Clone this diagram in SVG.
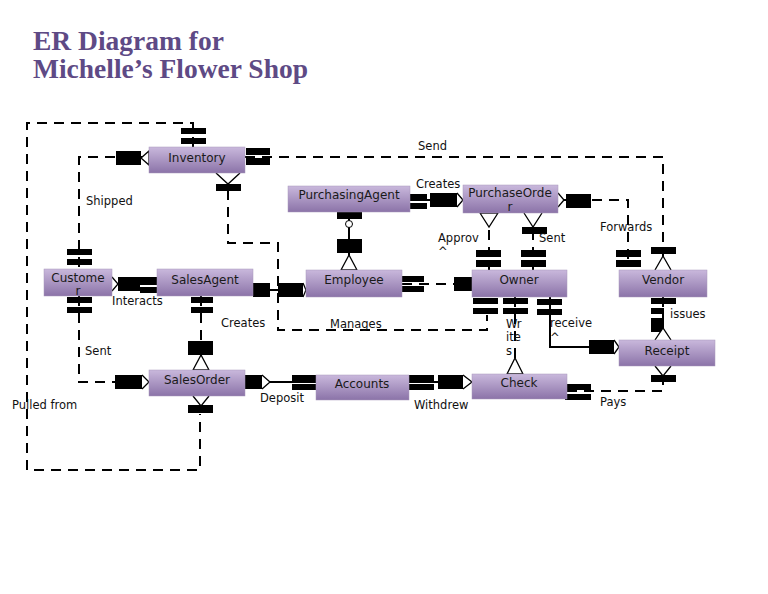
<svg xmlns="http://www.w3.org/2000/svg" width="768" height="594" viewBox="0 0 768 594">
<defs>
<linearGradient id="g" x1="0" y1="0" x2="0" y2="1"><stop offset="0" stop-color="#c9b8dc"/><stop offset="1" stop-color="#8b73a8"/></linearGradient>
</defs>
<style>
.box{fill:url(#g);stroke:#a898bb;stroke-width:0.5}
.t{font-family:"DejaVu Sans",sans-serif;font-size:12px;fill:#1a1a1a;text-anchor:middle}
.l{font-family:"DejaVu Sans",sans-serif;font-size:11.5px;fill:#111}
.d{fill:none;stroke:#000;stroke-width:2;stroke-dasharray:10,7}
.s{fill:none;stroke:#000;stroke-width:2}
.b{fill:#000}
.cf{fill:#fff;stroke:#000;stroke-width:1.3}
</style>
<rect width="768" height="594" fill="#fff"/>
<text x="33" y="50" font-family="Liberation Serif,serif" font-weight="bold" font-size="27.5" fill="#5e4a85">ER Diagram for</text>
<text x="33" y="78" font-family="Liberation Serif,serif" font-weight="bold" font-size="27.5" fill="#5e4a85">Michelle’s Flower Shop</text>
<g id="connectors">
<path class="d" d="M193 147V123H27V470H200V414"/>
<path class="d" d="M149 157H79V269"/>
<path class="d" d="M245 157H663V270"/>
<path class="d" d="M228 190V243H278V330H487V315"/>
<path class="s" d="M410 200H463"/>
<path class="s" d="M349 212V270"/>
<path class="d" d="M558 200H628V262"/>
<path class="d" d="M489 213V270"/>
<path class="d" d="M533 213V270"/>
<path class="d" d="M402 284H472"/>
<path class="s" d="M112 284H157"/>
<path class="d" d="M201 296V370"/>
<path class="s" d="M253 290H306"/>
<path class="d" d="M79 296V382H149"/>
<path class="s" d="M245 382H316"/>
<path class="s" d="M409 382H472"/>
<path class="d" d="M515 297V374"/>
<path class="s" d="M550 297V347H619"/>
<path class="d" d="M663 297V340"/>
<path class="d" d="M567 391H663V366"/>
<g class="b">
<rect x="181" y="128" width="25" height="6"/><rect x="181" y="138" width="25" height="6"/>
<rect x="116" y="151" width="25" height="14"/>
<rect x="246" y="148" width="24" height="7"/><rect x="246" y="158" width="24" height="7"/>
<rect x="216" y="184" width="25" height="7"/>
<rect x="67" y="249" width="25" height="6"/><rect x="67" y="259" width="25" height="6"/>
<rect x="67" y="297" width="25" height="6"/><rect x="67" y="307" width="25" height="6"/>
<rect x="118" y="277" width="22" height="14"/><rect x="140" y="277" width="17" height="6"/><rect x="140" y="287" width="17" height="6"/>
<rect x="191" y="297" width="22" height="6"/><rect x="191" y="307" width="22" height="6"/>
<rect x="253" y="283" width="17" height="14"/><rect x="278" y="283" width="25" height="14"/>
<rect x="337" y="212" width="25" height="7"/><rect x="337" y="239" width="25" height="14"/>
<rect x="410" y="194" width="17" height="6"/><rect x="410" y="203" width="17" height="6"/><rect x="430" y="193" width="27" height="14"/>
<rect x="566" y="194" width="25" height="14"/>
<rect x="522" y="227" width="25" height="7"/>
<rect x="476" y="250" width="25" height="7"/><rect x="476" y="260" width="25" height="7"/>
<rect x="521" y="250" width="25" height="7"/><rect x="521" y="260" width="25" height="7"/>
<rect x="616" y="250" width="25" height="7"/><rect x="616" y="260" width="25" height="7"/>
<rect x="651" y="247" width="25" height="7"/>
<rect x="402" y="276" width="22" height="6"/><rect x="402" y="286" width="22" height="6"/>
<rect x="454" y="277" width="18" height="14"/>
<rect x="473" y="298" width="25" height="6"/><rect x="473" y="308" width="25" height="6"/>
<rect x="503" y="298" width="25" height="6"/><rect x="503" y="308" width="25" height="6"/>
<rect x="537" y="299" width="25" height="6"/><rect x="537" y="309" width="25" height="6"/>
<rect x="651" y="298" width="25" height="6"/><rect x="651" y="308" width="13" height="6"/><rect x="651" y="318" width="13" height="14"/>
<rect x="589" y="340" width="25" height="14"/>
<rect x="651" y="375" width="25" height="7"/>
<rect x="115" y="375" width="27" height="14"/>
<rect x="188" y="341" width="25" height="14"/>
<rect x="188" y="405" width="25" height="8"/>
<rect x="236" y="375" width="26" height="14"/>
<rect x="292" y="375" width="24" height="6"/><rect x="292" y="384" width="24" height="6"/>
<rect x="409" y="375" width="25" height="6"/><rect x="409" y="384" width="25" height="6"/><rect x="438" y="375" width="25" height="14"/>
<rect x="565" y="384" width="26" height="6"/><rect x="565" y="394" width="26" height="6"/>
</g>
<g class="cf">
<path d="M141 158L149 151V165Z"/>
<path d="M216 173L228 184L240 173"/>
<path d="M112 277L118 284L112 291"/>
<path d="M303 283L306 290L303 297"/>
<path d="M341 270L349 255L357 270Z"/>
<path d="M457 193L463 200L457 207"/>
<path d="M558 193L564 200L558 207"/>
<path d="M480 213L489 227L498 213Z"/>
<path d="M524 213L533 227L542 213"/>
<path d="M655 270L663 256L671 270"/>
<path d="M614 340L619 347L614 354"/>
<path d="M655 340L663 328L671 340"/>
<path d="M655 366L663 376L671 366"/>
<path d="M142 375L149 382L142 389"/>
<path d="M193 370L201 355L209 370Z"/>
<path d="M193 396L201 406L209 396"/>
<path d="M262 375L270 382L262 389"/>
<path d="M463 375L472 382L463 389"/>
<path d="M507 374L515 358L523 374Z"/>
</g>
<circle cx="349" cy="224" r="3.5" fill="#fff" stroke="#000"/>
</g>
<g id="Inventory"><rect class="box" x="149" y="147" width="96" height="26"/><text class="t" x="197" y="162">Inventory</text></g>
<g id="PurchasingAgent"><rect class="box" x="288" y="186" width="122" height="26"/><text class="t" x="349" y="199">PurchasingAgent</text></g>
<g id="PurchaseOrder"><rect class="box" x="463" y="185" width="95" height="28"/><text class="t" x="510" y="197">PurchaseOrde</text><text class="t" x="510" y="211" font-size="8">r</text></g>
<g id="Customer"><rect class="box" x="44" y="269" width="68" height="27"/><text class="t" x="78" y="282">Custome</text><text class="t" x="78" y="295" font-size="7">r</text></g>
<g id="SalesAgent"><rect class="box" x="157" y="269" width="96" height="27"/><text class="t" x="205" y="284">SalesAgent</text></g>
<g id="Employee"><rect class="box" x="306" y="270" width="96" height="27"/><text class="t" x="354" y="284">Employee</text></g>
<g id="Owner"><rect class="box" x="472" y="270" width="95" height="27"/><text class="t" x="519" y="284">Owner</text></g>
<g id="Vendor"><rect class="box" x="619" y="270" width="88" height="27"/><text class="t" x="663" y="284">Vendor</text></g>
<g id="Receipt"><rect class="box" x="619" y="340" width="96" height="26"/><text class="t" x="667" y="355">Receipt</text></g>
<g id="SalesOrder"><rect class="box" x="149" y="370" width="96" height="26"/><text class="t" x="197" y="384">SalesOrder</text></g>
<g id="Accounts"><rect class="box" x="316" y="375" width="93" height="25"/><text class="t" x="362" y="388">Accounts</text></g>
<g id="Check"><rect class="box" x="472" y="374" width="95" height="25"/><text class="t" x="519" y="387">Check</text></g>
<g id="labels">
<text class="l" x="418" y="150">Send</text>
<text class="l" x="416" y="188">Creates</text>
<text class="l" x="86" y="205">Shipped</text>
<text class="l" x="438" y="242">Approv</text><text class="l" x="438" y="256" font-size="9">^</text>
<text class="l" x="539" y="242">Sent</text>
<text class="l" x="600" y="231">Forwards</text>
<text class="l" x="112" y="305">Interacts</text>
<text class="l" x="221" y="327">Creates</text>
<text class="l" x="330" y="328">Manages</text>
<text class="l" x="506" y="328">Wr</text><text class="l" x="506" y="341">ite</text><text class="l" x="506" y="355">s</text>
<text class="l" x="550" y="327">receive</text><text class="l" x="550" y="342" font-size="9">^</text>
<text class="l" x="670" y="318">issues</text>
<text class="l" x="85" y="355">Sent</text>
<text class="l" x="12" y="409">Pulled from</text>
<text class="l" x="260" y="402">Deposit</text>
<text class="l" x="414" y="409">Withdrew</text>
<text class="l" x="600" y="406">Pays</text>
</g>
</svg>
